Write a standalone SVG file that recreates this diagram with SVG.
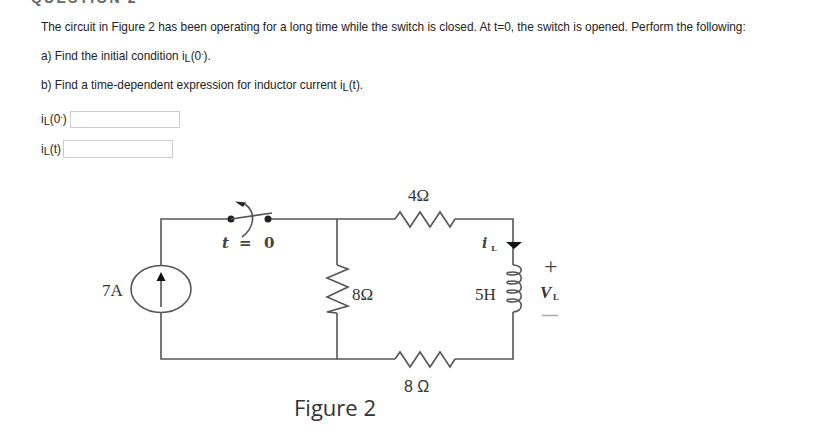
<svg xmlns="http://www.w3.org/2000/svg" width="819" height="445" viewBox="0 0 819 445">
<style>
.q{font-family:"Liberation Sans",Arial,sans-serif;font-size:11.850px;fill:#222}
.sub{font-size:11px}
.sup{font-size:7px}
.w{fill:none;stroke:#555;stroke-width:1.600}
.s{font-family:"Liberation Serif","Times New Roman",serif;font-size:17px;fill:#333}
.b{fill:#fff;stroke:#ccc;stroke-width:1}
.m{font-family:"DejaVu Serif",serif;font-weight:bold;fill:#444}
</style>
<rect width="819" height="445" fill="#fff"/>
<text x="31" y="2.500" font-family="Liberation Sans,sans-serif" font-weight="bold" font-size="14" letter-spacing="2.200" fill="#666">QUESTION 2</text>
<text class="q" x="41" y="30.500">The circuit in Figure 2 has been operating for a long time while the switch is closed. At t=0, the switch is opened. Perform the following:</text>
<text class="q" x="41" y="60">a) Find the initial condition i<tspan class="sub" dy="2">L</tspan><tspan dy="-2">(0</tspan><tspan class="sup" dy="-4">-</tspan><tspan dy="4">).</tspan></text>
<text class="q" x="41" y="89">b) Find a time-dependent expression for inductor current i<tspan class="sub" dy="2">L</tspan><tspan dy="-2">(t).</tspan></text>
<text class="q" x="41" y="123">i<tspan class="sub" dy="2">L</tspan><tspan dy="-2">(0</tspan><tspan class="sup" dy="-4">-</tspan><tspan dy="4">)</tspan></text>
<rect class="b" x="70.500" y="111.500" width="109" height="16"/>
<text class="q" x="41" y="153">i<tspan class="sub" dy="2">L</tspan><tspan dy="-2">(t)</tspan></text>
<rect class="b" x="63.500" y="140.500" width="109" height="17"/>
<g id="connectors">
<path class="w" d="M161 265V219H231M268 219H337M337 219V265M337 313V359M161 313V359H395M455 359H513V312M513 265V219H455M395 219H337"/>
</g>
<g id="switch">
<circle cx="231" cy="219" r="3.500" fill="#222"/>
<circle cx="268" cy="219" r="3.500" fill="#222"/>
<path class="w" stroke-width="1.200" d="M231 219L272 213"/>
<path class="w" stroke-width="1.200" d="M242 237C254 228 257 213 245 204"/>
<path d="M235 201.500L246 202.500L243 207Z" fill="#222"/>
<text class="m" x="222" y="248" font-style="italic" font-size="15">t</text>
<text class="m" x="239" y="248" font-size="15">=</text>
<text class="m" x="264" y="248" font-size="15">0</text>
</g>
<g id="source">
<ellipse class="w" cx="161" cy="289" rx="30" ry="23.500"/>
<path class="w" d="M161 307V280"/>
<path d="M161 272L165.500 281H156.500Z" fill="#111"/>
<text class="s" x="102" y="296">7A</text>
</g>
<g id="r8v">
<path class="w" d="M337 265L348 269L327 278L348 287L327 297L348 306L327 312L337 313"/>
<text class="s" x="352" y="300">8Ω</text>
</g>
<g id="r4">
<path class="w" d="M395 219L400 212L410 227L420 212L430 227L440 212L450 227L455 219"/>
<text class="s" x="408" y="201">4Ω</text>
</g>
<g id="r8h">
<path class="w" d="M395 359L400 352L410 367L420 352L430 367L440 352L450 367L455 359"/>
<text x="404" y="392" font-family="Liberation Sans,sans-serif" font-size="16" fill="#333">8 Ω</text>
</g>
<g id="inductor">
<path class="w" stroke-width="1.300" d="M513 265C524 265 524 275 513 275C505 275 505 272 513 272C524 272 524 284 513 284C505 284 505 281 513 281C524 281 524 293 513 293C505 293 505 290 513 290C524 290 524 302 513 302C505 302 505 299 513 299C524 299 524 312 513 312"/>
<path d="M506 242H522L514 249Z" fill="#111"/>
<text class="m" x="482" y="248" font-style="italic" font-size="14">i</text>
<text class="m" x="491" y="251" font-size="8">L</text>
<text class="s" x="475" y="300">5H</text>
</g>
<g id="vl">
<text x="544" y="274" font-family="Liberation Serif,serif" font-size="24" fill="#444">+</text>
<text x="540" y="298" font-family="Liberation Serif,serif" font-style="italic" font-weight="bold" font-size="17" fill="#333">V</text>
<text x="553" y="300" font-family="Liberation Serif,serif" font-weight="bold" font-size="9" fill="#333">L</text>
<path d="M542 315.500H558" stroke="#aaa" stroke-width="1.500"/>
</g>
<text x="294" y="416" font-family="Open Sans,sans-serif" font-size="22" fill="#333">Figure 2</text>
</svg>
